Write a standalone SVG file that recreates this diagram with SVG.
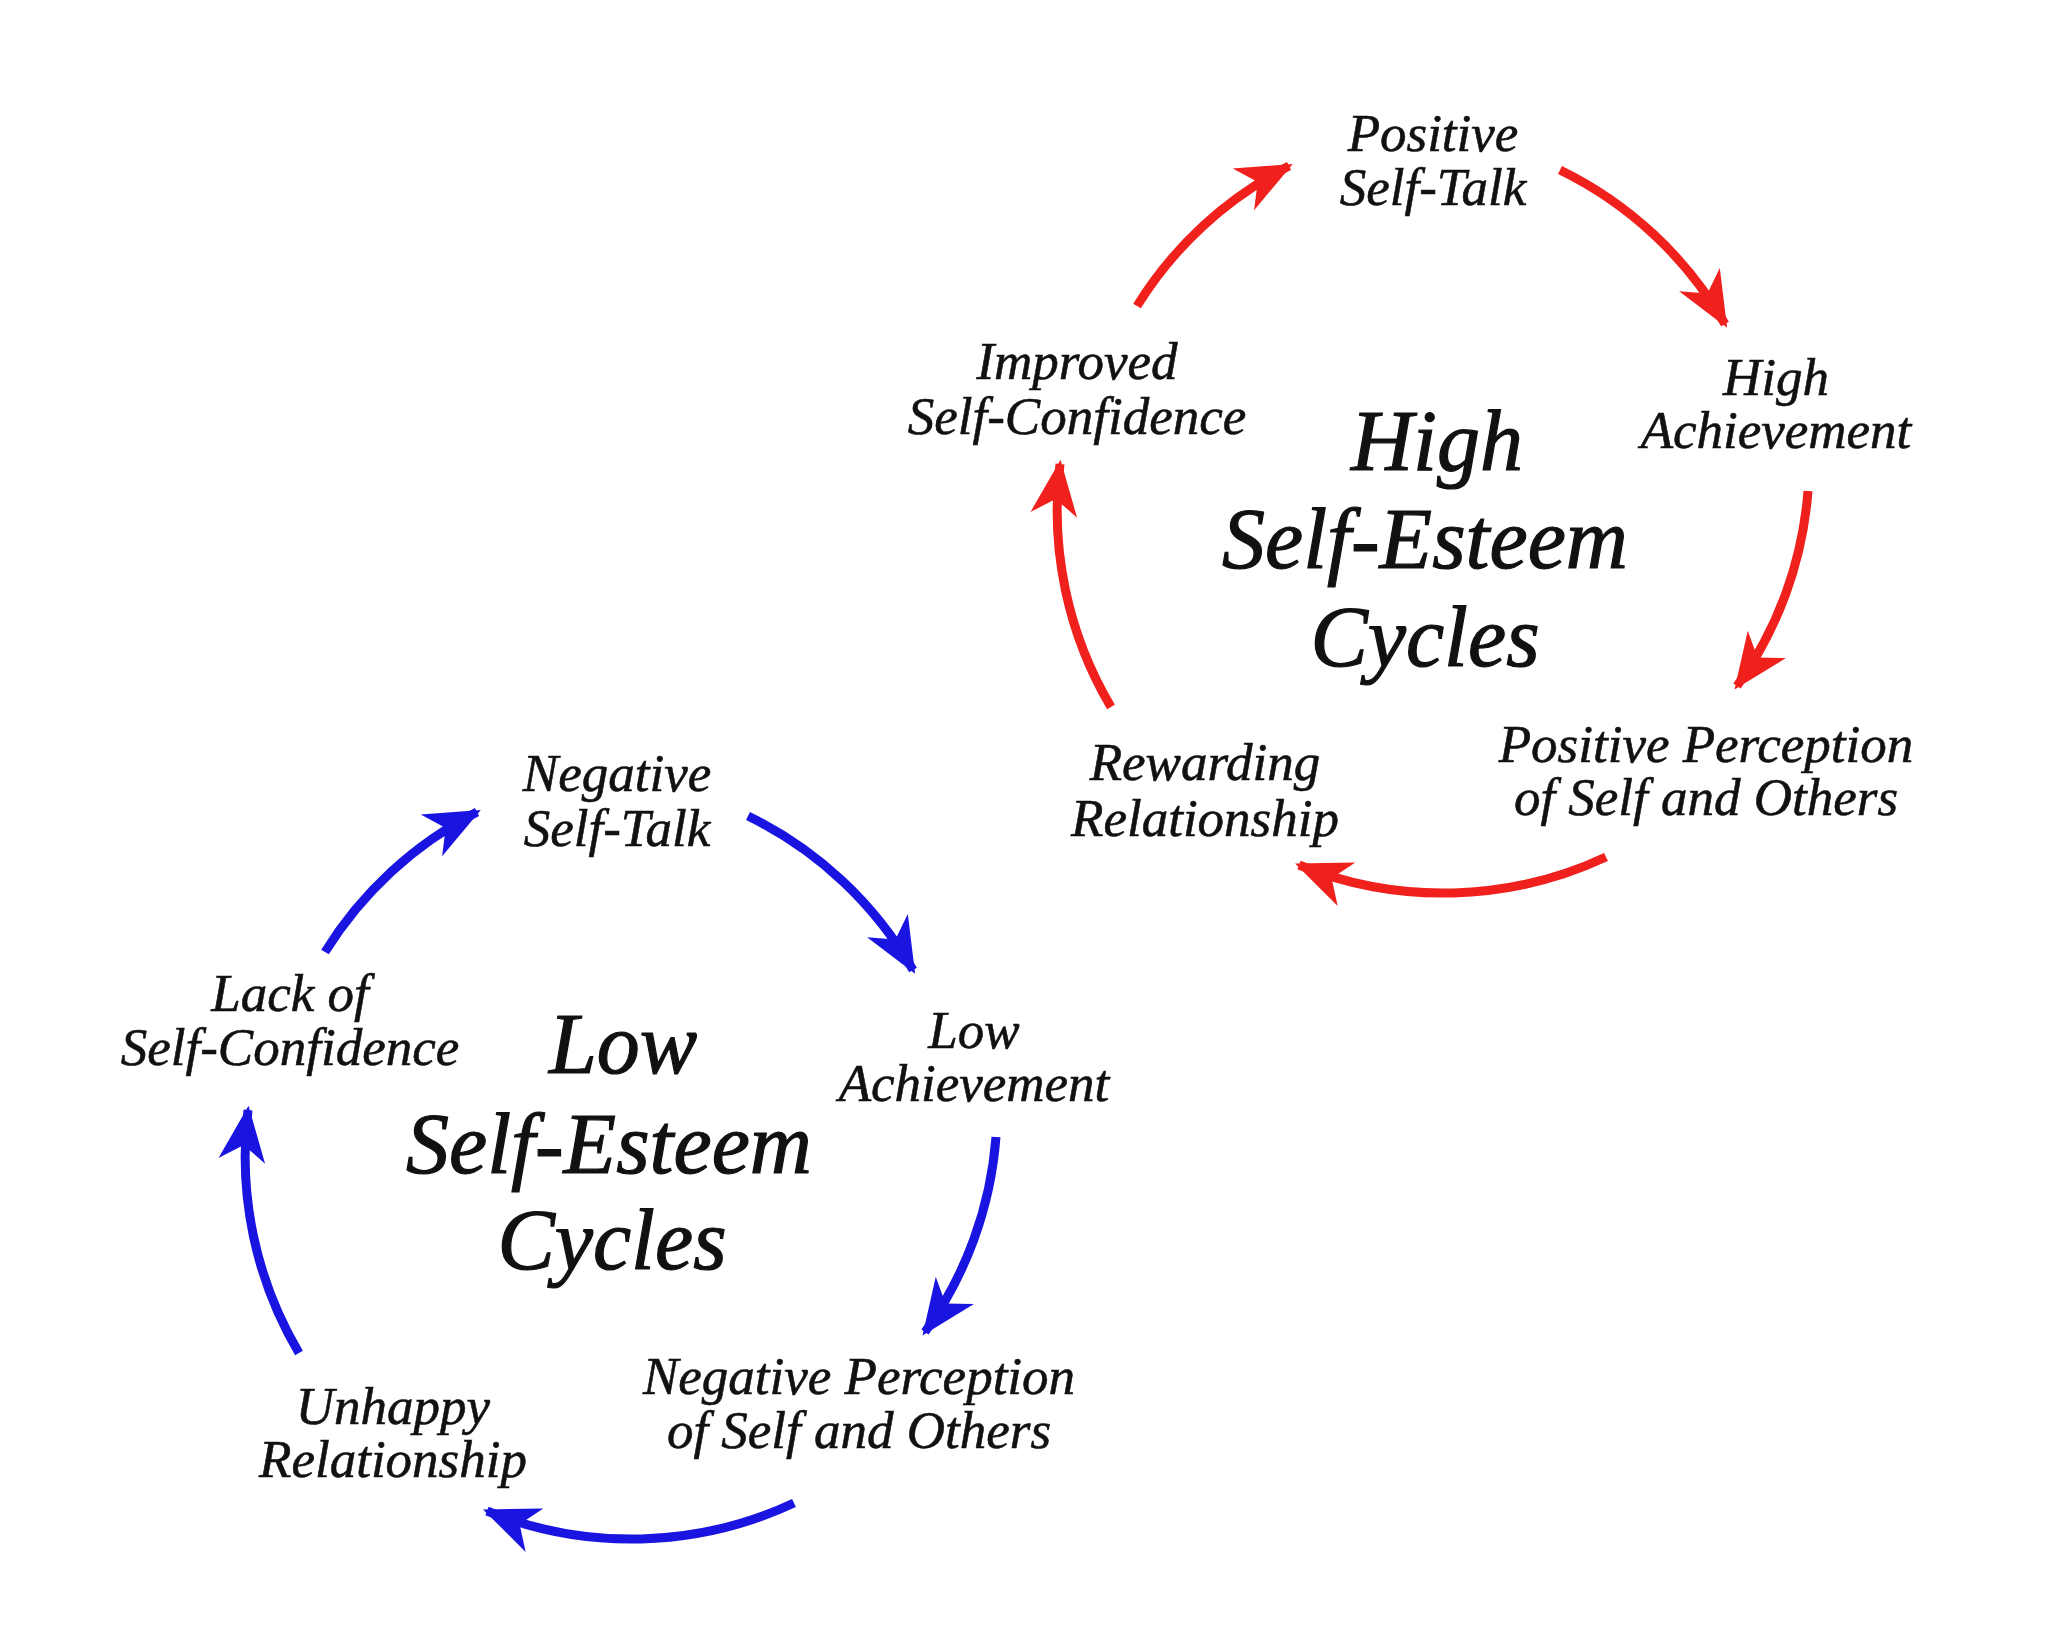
<svg xmlns="http://www.w3.org/2000/svg" width="2048" height="1627" viewBox="0 0 2048 1627">
<defs>
<style>
.lbl{font-family:"Liberation Serif",serif;font-style:italic;font-size:53px;fill:#111;text-anchor:middle;stroke:#111;stroke-width:0.6}
.ttl{font-family:"Liberation Serif",serif;font-style:italic;font-size:86px;fill:#111;text-anchor:middle;stroke:#111;stroke-width:1.2}
.r{fill:none;stroke:#f0201c;stroke-width:9}
.b{fill:none;stroke:#1a14e0;stroke-width:9}
</style>
<marker id="mr" markerUnits="userSpaceOnUse" markerWidth="64" markerHeight="64" viewBox="-54 -27 60 54" refX="0" refY="0" orient="auto"><path d="M4,0 L-48,-22 L-33,0 L-48,22 Z" fill="#f0201c"/></marker>
<marker id="mb" markerUnits="userSpaceOnUse" markerWidth="64" markerHeight="64" viewBox="-54 -27 60 54" refX="0" refY="0" orient="auto"><path d="M4,0 L-48,-22 L-33,0 L-48,22 Z" fill="#1a14e0"/></marker>
</defs>
<rect width="2048" height="1627" fill="#fff"/>
<g transform="translate(-11,-8)">
<g id="connectors">
<g id="red">
<path class="r" marker-end="url(#mr)" d="M1148,314 A385,385 0 0 1 1300,174"/>
<path class="r" marker-end="url(#mr)" d="M1571,178 A385,385 0 0 1 1736,332"/>
<path class="r" marker-end="url(#mr)" d="M1819,499 A385,385 0 0 1 1748,694"/>
<path class="r" marker-end="url(#mr)" d="M1617,865 A385,385 0 0 1 1310,873"/>
<path class="r" marker-end="url(#mr)" d="M1122,715 A385,385 0 0 1 1071,472"/>
</g>
<g id="blue" transform="translate(-812,646)">
<path class="b" marker-end="url(#mb)" d="M1148,314 A385,385 0 0 1 1300,174"/>
<path class="b" marker-end="url(#mb)" d="M1571,178 A385,385 0 0 1 1736,332"/>
<path class="b" marker-end="url(#mb)" d="M1819,499 A385,385 0 0 1 1748,694"/>
<path class="b" marker-end="url(#mb)" d="M1617,865 A385,385 0 0 1 1310,873"/>
<path class="b" marker-end="url(#mb)" d="M1122,715 A385,385 0 0 1 1071,472"/>
</g>
</g>
<g id="high-title"><text class="ttl"><tspan x="1448" y="478">High</tspan><tspan x="1436" y="576">Self-Esteem</tspan><tspan x="1436" y="674">Cycles</tspan></text></g>
<g id="positive-self-talk"><text class="lbl"><tspan x="1444" y="159">Positive</tspan><tspan x="1444" y="213">Self-Talk</tspan></text></g>
<g id="high-achievement"><text class="lbl"><tspan x="1787" y="403">High</tspan><tspan x="1787" y="456">Achievement</tspan></text></g>
<g id="positive-perception"><text class="lbl"><tspan x="1717" y="770">Positive Perception</tspan><tspan x="1717" y="823">of Self and Others</tspan></text></g>
<g id="rewarding-relationship"><text class="lbl"><tspan x="1216" y="788">Rewarding</tspan><tspan x="1216" y="844">Relationship</tspan></text></g>
<g id="improved-confidence"><text class="lbl"><tspan x="1088" y="387">Improved</tspan><tspan x="1088" y="442">Self-Confidence</tspan></text></g>
<g id="low-title"><text class="ttl"><tspan x="634" y="1081">Low</tspan><tspan x="620" y="1181">Self-Esteem</tspan><tspan x="623" y="1277">Cycles</tspan></text></g>
<g id="negative-self-talk"><text class="lbl"><tspan x="628" y="799">Negative</tspan><tspan x="628" y="854">Self-Talk</tspan></text></g>
<g id="low-achievement"><text class="lbl"><tspan x="985" y="1056">Low</tspan><tspan x="985" y="1109">Achievement</tspan></text></g>
<g id="negative-perception"><text class="lbl"><tspan x="870" y="1402">Negative Perception</tspan><tspan x="870" y="1456">of Self and Others</tspan></text></g>
<g id="unhappy-relationship"><text class="lbl"><tspan x="404" y="1432">Unhappy</tspan><tspan x="404" y="1485">Relationship</tspan></text></g>
<g id="lack-confidence"><text class="lbl"><tspan x="301" y="1019">Lack of</tspan><tspan x="301" y="1073">Self-Confidence</tspan></text></g>
</g>
</svg>
